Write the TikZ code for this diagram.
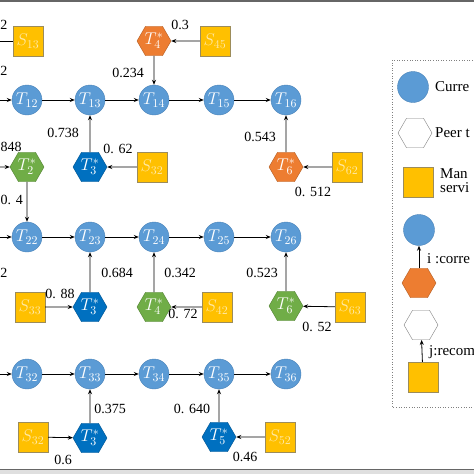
\documentclass[tikz,border=0pt]{standalone}
\usepackage{fix-cm}
\usepackage{fontspec}
\setmainfont{Liberation Serif}
\usetikzlibrary{arrows.meta,shapes.geometric}

\definecolor{taskblue}{HTML}{5B9BD5}
\definecolor{taskedge}{HTML}{4A83B8}
\definecolor{svcyellow}{HTML}{FFC000}
\definecolor{svcedge}{HTML}{9C8C5A}
\definecolor{peerorange}{HTML}{ED7D31}
\definecolor{peergreen}{HTML}{70AD47}
\definecolor{peerblue}{HTML}{0070C0}

\begin{document}
\begin{tikzpicture}[x=1pt,y=-1pt,>={Stealth[length=5pt,width=4pt]},
    task/.style={circle,fill=taskblue,draw=taskedge,minimum size=30pt,inner sep=0pt,text=white,font=\fontsize{17}{20}\selectfont},
    peer/.style={regular polygon,regular polygon sides=6,minimum size=34pt,inner sep=0pt,text=white,font=\fontsize{17}{20}\selectfont},
    svc/.style={rectangle,fill=svcyellow,draw=svcedge,minimum size=30pt,inner sep=0pt,text=svcyellow!35!white,font=\fontsize{17}{20}\selectfont},
    wt/.style={font=\fontsize{14}{16}\selectfont,inner sep=0pt},
    lt/.style={font=\fontsize{15}{16}\selectfont,inner sep=0pt,anchor=west},
    edge/.style={->,line width=0.8pt}]

    \useasboundingbox (0,0) rectangle (474,474);
    \clip (0,0) rectangle (474,474);

    % 上下灰边
    \fill[gray!25] (0,470) rectangle (474,474);
    \draw[gray!80!black,line width=1.5pt] (0,469.5) -- (474,469.5);
    \draw[gray!80!black,line width=2.5pt] (0,1) -- (474,1);

    % 三行任务节点
    \foreach \r/\y in {1/100,2/237,3/374} {
            \coordinate (in\r) at (-20,\y);
            \foreach \c/\x in {2/27,3/90,4/154,5/219,6/286} {
                    \node[task] (t\r\c) at (\x,\y) {$T_{\r\c}$};
                }
            \draw[edge] (in\r) -- (t\r2);
            \foreach \a/\b in {2/3,3/4,4/5,5/6} {
                    \draw[edge] (t\r\a) -- (t\r\b);
                }
        }

    % 同伴任务(六边形)
    \node[peer,fill=peerorange,draw=peerorange!75!black] (p14) at (154,41) {$T_4^*$};
    \node[peer,fill=peergreen,draw=peergreen!75!black] (p12) at (27,167) {$T_2^*$};
    \node[peer,fill=peerblue,draw=peerblue!75!black] (p13) at (90,167) {$T_3^*$};
    \node[peer,fill=peerorange,draw=peerorange!75!black] (p16) at (286,167) {$T_6^*$};
    \node[peer,fill=peerblue,draw=peerblue!75!black] (p23) at (90,307) {$T_3^*$};
    \node[peer,fill=peergreen,draw=peergreen!75!black] (p24) at (154,307) {$T_4^*$};
    \node[peer,fill=peergreen,draw=peergreen!75!black] (p26) at (286,306) {$T_6^*$};
    \node[peer,fill=peerblue,draw=peerblue!75!black] (p33) at (90,438) {$T_3^*$};
    \node[peer,fill=peerblue,draw=peerblue!75!black] (p35) at (219,437) {$T_5^*$};

    % 制造服务(方块)
    \node[svc] (s13) at (28,41) {$S_{13}$};
    \node[svc] (s45) at (215,41) {$S_{45}$};
    \node[svc] (s32a) at (152,167) {$S_{32}$};
    \node[svc] (s62) at (347,167) {$S_{62}$};
    \node[svc] (s33) at (30,307) {$S_{33}$};
    \node[svc] (s42) at (217,307) {$S_{42}$};
    \node[svc] (s63) at (350,307) {$S_{63}$};
    \node[svc] (s32b) at (33,437) {$S_{32}$};
    \node[svc] (s52) at (280,437) {$S_{52}$};

    % 连线
    \coordinate (out13) at (-20,41);
    \coordinate (in12) at (-20,167);
    \draw[edge] (s13) -- (out13);
    \draw[edge] (in12) -- (p12);
    \draw[edge] (s45) -- (p14);
    \draw[edge] (p14) -- (t14);
    \draw[edge] (s32a) -- (p13);
    \draw[edge] (p13) -- (t13);
    \draw[edge] (s62) -- (p16);
    \draw[edge] (p16) -- (t16);
    \draw[edge] (p12) -- (t22);
    \draw[edge] (s33) -- (p23);
    \draw[edge] (p23) -- (t23);
    \draw[edge] (s42) -- (p24);
    \draw[edge] (p24) -- (t24);
    \draw[edge] (s63) -- (p26);
    \draw[edge] (p26) -- (t26);
    \draw[edge] (s32b) -- (p33);
    \draw[edge] (p33) -- (t33);
    \draw[edge] (s52) -- (p35);
    \draw[edge] (p35) -- (t35);

    % 权重
    \foreach \x/\y/\t [count=\i] in {180/25/0.3,128/73/0.234,63/133/0.738,118/149/0. 62,
            260/137/0.543,313/192/0. 512,117/273/0.684,180/273/0.342,262/273/0.523,
            60/294/0. 88,183/314/0. 72,317/327/0. 52,110/409/0.375,192/409/0. 640,
            63/460/0.6,245/457/0.46,4/25/2,4/71/2,4/273/2} {
            \node[wt] (w\i) at (\x,\y) {\t};
        }
    \node[wt,anchor=west] (w848) at (0.5,147) {848};
    \node[wt,anchor=west] (w04) at (0.5,200) {0. 4};

    % 图例
    \draw[gray,dotted,line width=0.6pt] (392,60) rectangle (500,407);
    \node[task,minimum size=31pt] (lg1) at (413,87) {};
    \node[lt] (lt1) at (435,87) {Curre};
    \node[peer,draw=gray,fill=white] (lg2) at (415,133) {};
    \node[lt] (lt2) at (435,133) {Peer t};
    \node[svc] (lg3) at (418,182) {};
    \node[lt,align=left] (lt3) at (440,181) {Man\\[-2pt]servi};
    \node[task,minimum size=31pt] (lg4) at (419,230) {};
    \node[peer,fill=peerorange,draw=peerorange!75!black] (lg5) at (419,283) {};
    \draw[edge] (lg5) -- (lg4);
    \node[lt] (lt4) at (427,259) {i :corre};
    \node[peer,draw=gray,fill=white] (lg6) at (421,325) {};
    \node[svc] (lg7) at (423,377) {};
    \draw[edge] (lg7) -- (lg6);
    \node[lt] (lt5) at (429,352) {j:recom};

\end{tikzpicture}
\end{document}
